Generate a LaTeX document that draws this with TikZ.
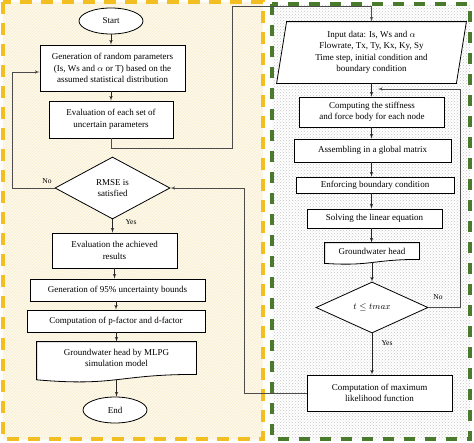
\documentclass[tikz,border=0pt]{standalone}
\usepackage{fontspec}
\setmainfont{Liberation Serif}
\usetikzlibrary{arrows}
\usetikzlibrary{shapes}
\usetikzlibrary{patterns}
\usetikzlibrary{calc}
\definecolor{creamBg}{HTML}{FEFAEC}
\definecolor{hatchCol}{HTML}{F6EBCB}
\definecolor{dotCol}{HTML}{C4C4C4}
\definecolor{yellowFrame}{HTML}{F2BE22}
\definecolor{greenFrame}{HTML}{4A7A2C}
\pgfdeclarelayer{bg}
\pgfdeclarelayer{mid}
\pgfsetlayers{bg,mid,main}

\begin{document}
\begin{tikzpicture}[x = 1pt, y = -1pt, >=latex']
\tikzstyle{boxStyle} = [shape = rectangle, draw, fill = white, line width = 0.8pt, inner sep = 1pt, align = center, font = \fontsize{9}{11.5}\selectfont]
\tikzstyle{termStyle} = [boxStyle, shape = ellipse]
\tikzstyle{decisionStyle} = [boxStyle, shape = diamond, aspect = 2, inner sep = 0pt]
\tikzstyle{docStyle} = [boxStyle, draw = none, fill = none]
\tikzstyle{docShape} = [draw, fill = white, line width = 0.8pt]
\tikzstyle{flowStyle} = [->, draw = black!85, line width = 0.6pt]
\tikzstyle{labelStyle} = [font = \fontsize{7.5}{9}\selectfont, inner sep = 1pt]
\useasboundingbox (0,0) rectangle (474,442);
\begin{pgfonlayer}{bg}
\fill[creamBg] (3,2) rectangle (263,439);
\fill[pattern = north east lines, pattern color = hatchCol] (3,2) rectangle (263,439);
\fill[pattern = crosshatch dots, pattern color = dotCol] (272,4) rectangle (470,439);
\draw[yellowFrame, line width = 3.5pt, dash pattern = on 12pt off 9pt] (3,2) rectangle (263,439);
\draw[greenFrame, line width = 3.5pt, dash pattern = on 11pt off 10pt] (272,4) rectangle (470,439);
\end{pgfonlayer}
\node[termStyle, minimum width = 64pt, minimum height = 26pt] (start) at (111,21) {Start};
\node[boxStyle, minimum width = 145pt, minimum height = 46pt] (gen) at (112.5,68) {Generation of random parameters\\(Is, Ws and $\alpha$ or T) based on the\\assumed statistical distribution};
\node[boxStyle, minimum width = 124pt, minimum height = 37pt] (evalset) at (111,119.5) {Evaluation of each set of\\uncertain parameters};
\node[decisionStyle, minimum width = 115pt, minimum height = 62pt] (rmse) at (112.5,188) {RMSE is\\satisfied};
\node[boxStyle, minimum width = 125pt, minimum height = 35pt] (evalres) at (114.5,250.5) {Evaluation the achieved\\results};
\node[boxStyle, minimum width = 175pt, minimum height = 22pt] (bounds) at (117.5,290) {Generation of 95\% uncertainty bounds};
\node[boxStyle, minimum width = 178pt, minimum height = 22pt] (pdfac) at (116,321) {Computation of p-factor and d-factor};
\node[docStyle, minimum width = 159pt, minimum height = 32pt] (mlpg) at (116.5,358) {Groundwater head by MLPG\\simulation model};
\node[termStyle, minimum width = 64pt, minimum height = 26pt] (end) at (115,410) {End};
\node[docStyle, minimum width = 179pt, minimum height = 61pt] (input) at (371.5,52.5) {Input data: Is, Ws and $\alpha$\\Flowrate, Tx, Ty, Kx, Ky, Sy\\Time step, initial condition and\\boundary condition};
\node[boxStyle, minimum width = 145pt, minimum height = 30pt] (stiff) at (372,112) {Computing the stiffness\\and force body for each node};
\node[boxStyle, minimum width = 157pt, minimum height = 23pt] (assem) at (372.5,150.5) {Assembling in a global matrix};
\node[boxStyle, minimum width = 158pt, minimum height = 16pt] (enforce) at (375,185) {Enforcing boundary condition};
\node[boxStyle, minimum width = 135pt, minimum height = 19pt] (solve) at (374.5,218.5) {Solving the linear equation};
\node[docStyle, minimum width = 94pt, minimum height = 16pt] (gwh) at (372,251) {Groundwater head};
\node[decisionStyle, minimum width = 112pt, minimum height = 51pt] (tdiam) at (372,307.5) {$t \leq tmax$};
\node[boxStyle, minimum width = 145pt, minimum height = 36pt] (likeli) at (379.5,393) {Computation of maximum\\likelihood function};
\begin{pgfonlayer}{mid}
\draw[docShape] (mlpg.north west) -- (mlpg.north east) -- (mlpg.south east) .. controls (mlpg.south) and ($(mlpg.south)+(0,12.3)$) .. ($(mlpg.south west)+(0,5.4)$) -- cycle;
\draw[docShape] (gwh.north west) -- (gwh.north east) -- (gwh.south east) .. controls (gwh.south) and ($(gwh.south)+(0,7)$) .. ($(gwh.south west)+(0,4)$) -- cycle;
\draw[docShape] ([xshift = 5pt]input.north west) -- ([xshift = 5pt]input.north east) -- ([xshift = -5pt]input.south east) -- ([xshift = -5pt]input.south west) -- cycle;
\end{pgfonlayer}
\coordinate (mlpgBase) at ($(mlpg.south)+(0,5.3)$);
\coordinate (gwhBase) at ($(gwh.south)+(0,3)$);
\coordinate (evalTurn) at ($(evalset.south)+(0,10)$);
\coordinate (topTurn) at (232,6);
\coordinate (backTurn) at (244,188);
\coordinate (noTurn) at (12,188);
\coordinate (loopTurn) at (460,307.5);
\coordinate (loopEnd) at (378,89);
\node[labelStyle] (noLeft) at (47,181) {No};
\node[labelStyle] (yesLeft) at (131,222) {Yes};
\node[labelStyle] (noRight) at (438,297) {No};
\node[labelStyle] (yesRight) at (387,343) {Yes};
\draw[flowStyle] (start.south) -- (start.south |- gen.north);
\draw[flowStyle] (evalset.north |- gen.south) -- (evalset.north);
\draw[flowStyle] (rmse.south) -- (rmse.south |- evalres.north);
\draw[flowStyle] (evalres.south) -- (evalres.south |- bounds.north);
\draw[flowStyle] (pdfac.north |- bounds.south) -- (pdfac.north);
\draw[flowStyle] (mlpgBase |- pdfac.south) -- (mlpg.north);
\draw[flowStyle] (mlpgBase) -- (mlpgBase |- end.north);
\draw[flowStyle, draw = black!70] (evalset.south) -- (evalTurn) -| (topTurn) -| (input.north);
\draw[flowStyle, draw = black!70] (likeli.west) -| (backTurn) -- (rmse.east);
\draw[flowStyle, draw = black!70] (rmse.west) -- (noTurn) |- ([yshift = -4pt]gen.west);
\draw[flowStyle] (input.south) -- (input.south |- stiff.north);
\draw[flowStyle] (input.south |- stiff.south) -- (input.south |- assem.north);
\draw[flowStyle] (input.south |- assem.south) -- (input.south |- enforce.north);
\draw[flowStyle] (input.south |- enforce.south) -- (input.south |- solve.north);
\draw[flowStyle] (input.south |- solve.south) -- (input.south |- gwh.north);
\draw[flowStyle] (gwhBase) -- (tdiam.north);
\draw[flowStyle] (tdiam.south) -- (tdiam.south |- likeli.north);
\draw[flowStyle, draw = black!70] (tdiam.east) -- (loopTurn) |- (loopEnd);
\end{tikzpicture}
\end{document}
